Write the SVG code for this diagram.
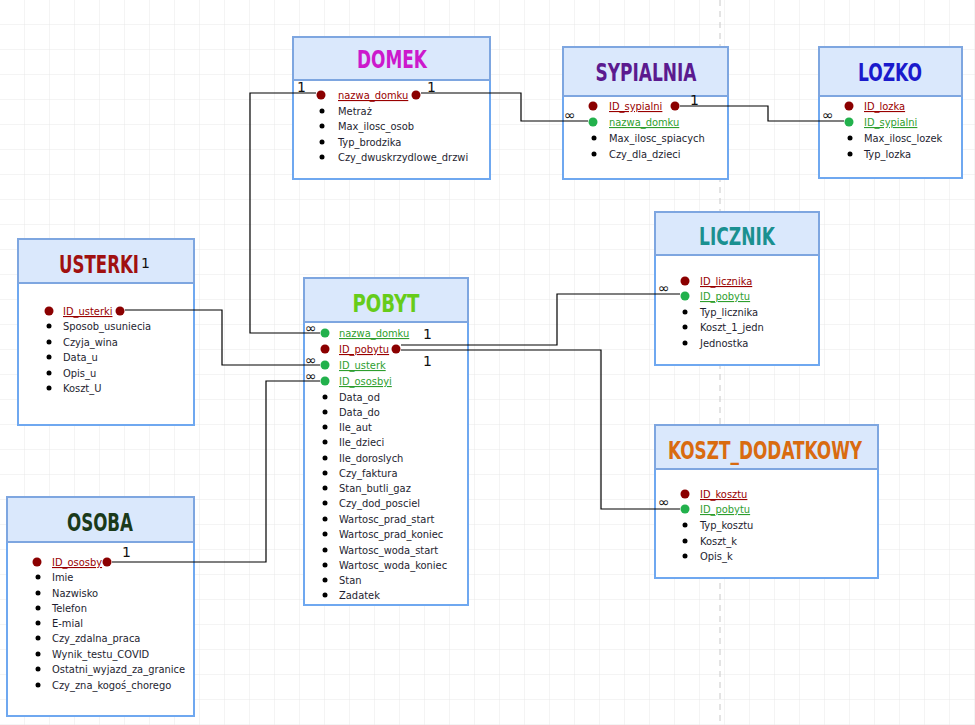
<svg xmlns="http://www.w3.org/2000/svg" width="975" height="725" viewBox="0 0 975 725">
<defs>
<pattern id="g" width="25" height="25" patternUnits="userSpaceOnUse"><path d="M25 0V25M0 25H25" fill="none" stroke="#e8e8e8" stroke-width="1"/></pattern>
<style>
.h{fill:#dae8fc;stroke:#7ea6e0;stroke-width:2}
.b{fill:#fff;stroke:#6fa8f0;stroke-width:2}
.t{font-family:"DejaVu Sans Condensed","DejaVu Sans",sans-serif;font-weight:bold;font-size:25px;text-anchor:middle}
.r{font-family:"DejaVu Sans Condensed","DejaVu Sans",sans-serif;font-size:11px;fill:#1e1e30}
.pk{fill:#990000;text-decoration:underline}
.fk{fill:#2e9e2e;text-decoration:underline}
.d{fill:#000}
.dr{fill:#8b0000}
.dg{fill:#22b14c}
.c{fill:none;stroke:#000;stroke-width:1.2}
.l{font-family:"DejaVu Sans",sans-serif;font-size:14px;fill:#111}
</style>
</defs>
<rect width="975" height="725" fill="#fff"/>
<rect width="975" height="725" fill="url(#g)"/>
<line x1="720" y1="0" x2="720" y2="725" stroke="#c8c8c8" stroke-dasharray="6,5"/>

<g id="DOMEK">
<rect class="b" x="293" y="80" width="197" height="99"/><rect class="h" x="293" y="37" width="197" height="43"/>
<text class="t" x="392" y="68" fill="#cc19cc" textLength="70" lengthAdjust="spacingAndGlyphs">DOMEK</text>
<circle class="dr" cx="321" cy="95" r="4.5"/><text class="r pk" x="338" y="99">nazwa_domku</text><circle class="dr" cx="416" cy="95" r="4.5"/>
<circle class="d" cx="322" cy="111" r="2.5"/><text class="r" x="338" y="115">Metraż</text>
<circle class="d" cx="322" cy="126" r="2.5"/><text class="r" x="338" y="130">Max_ilosc_osob</text>
<circle class="d" cx="322" cy="142" r="2.5"/><text class="r" x="338" y="146">Typ_brodzika</text>
<circle class="d" cx="322" cy="157" r="2.5"/><text class="r" x="338" y="161">Czy_dwuskrzydlowe_drzwi</text>
</g>

<g id="SYPIALNIA">
<rect class="b" x="563" y="96" width="165" height="83"/><rect class="h" x="563" y="47" width="165" height="49"/>
<text class="t" x="646" y="81" fill="#5b1a8f" textLength="101" lengthAdjust="spacingAndGlyphs">SYPIALNIA</text>
<circle class="dr" cx="593" cy="106" r="4.5"/><text class="r pk" x="609" y="110">ID_sypialni</text><circle class="dr" cx="675" cy="106" r="4.5"/>
<circle class="dg" cx="593" cy="122" r="4.5"/><text class="r fk" x="609" y="126">nazwa_domku</text>
<circle class="d" cx="594" cy="138" r="2.5"/><text class="r" x="609" y="142">Max_ilosc_spiacych</text>
<circle class="d" cx="594" cy="154" r="2.5"/><text class="r" x="609" y="158">Czy_dla_dzieci</text>
</g>

<g id="LOZKO">
<rect class="b" x="819" y="96" width="143" height="82"/><rect class="h" x="819" y="47" width="143" height="49"/>
<text class="t" x="890" y="81" fill="#1a1acc" textLength="64" lengthAdjust="spacingAndGlyphs">LOZKO</text>
<circle class="dr" cx="849" cy="106" r="4.5"/><text class="r pk" x="864" y="110">ID_lozka</text>
<circle class="dg" cx="849" cy="122" r="4.5"/><text class="r fk" x="864" y="126">ID_sypialni</text>
<circle class="d" cx="850" cy="138" r="2.5"/><text class="r" x="864" y="142">Max_ilosc_lozek</text>
<circle class="d" cx="850" cy="154" r="2.5"/><text class="r" x="864" y="158">Typ_lozka</text>
</g>

<g id="USTERKI">
<rect class="b" x="18" y="283" width="176" height="142"/><rect class="h" x="18" y="239" width="176" height="44"/>
<text class="t" x="99" y="273" fill="#a01010" textLength="80" lengthAdjust="spacingAndGlyphs">USTERKI</text>
<circle class="dr" cx="49" cy="311" r="4.5"/><text class="r pk" x="63" y="315">ID_usterki</text><circle class="dr" cx="120" cy="311" r="4.5"/>
<circle class="d" cx="49" cy="326" r="2.5"/><text class="r" x="63" y="330">Sposob_usuniecia</text>
<circle class="d" cx="49" cy="342" r="2.5"/><text class="r" x="63" y="346">Czyja_wina</text>
<circle class="d" cx="49" cy="357" r="2.5"/><text class="r" x="63" y="361">Data_u</text>
<circle class="d" cx="49" cy="373" r="2.5"/><text class="r" x="63" y="377">Opis_u</text>
<circle class="d" cx="49" cy="388" r="2.5"/><text class="r" x="63" y="392">Koszt_U</text>
</g>

<g id="POBYT">
<rect class="b" x="304" y="322" width="164" height="283"/><rect class="h" x="304" y="278" width="164" height="44"/>
<text class="t" x="386" y="312" fill="#66cc1a" textLength="67" lengthAdjust="spacingAndGlyphs">POBYT</text>
<circle class="dg" cx="325" cy="333" r="4.5"/><text class="r fk" x="339" y="337">nazwa_domku</text>
<circle class="dr" cx="325" cy="349" r="4.5"/><text class="r pk" x="339" y="353">ID_pobytu</text><circle class="dr" cx="396" cy="349" r="4.5"/>
<circle class="dg" cx="325" cy="365" r="4.5"/><text class="r fk" x="339" y="369">ID_usterk</text>
<circle class="dg" cx="325" cy="381" r="4.5"/><text class="r fk" x="339" y="385">ID_ososbyi</text>
<g>
<circle class="d" cx="325" cy="397" r="2.5"/><text class="r" x="339" y="401">Data_od</text>
<circle class="d" cx="325" cy="412" r="2.5"/><text class="r" x="339" y="416">Data_do</text>
<circle class="d" cx="325" cy="427" r="2.5"/><text class="r" x="339" y="431">Ile_aut</text>
<circle class="d" cx="325" cy="442" r="2.5"/><text class="r" x="339" y="446">Ile_dzieci</text>
<circle class="d" cx="325" cy="458" r="2.5"/><text class="r" x="339" y="462">Ile_doroslych</text>
<circle class="d" cx="325" cy="473" r="2.5"/><text class="r" x="339" y="477">Czy_faktura</text>
<circle class="d" cx="325" cy="488" r="2.5"/><text class="r" x="339" y="492">Stan_butli_gaz</text>
<circle class="d" cx="325" cy="503" r="2.5"/><text class="r" x="339" y="507">Czy_dod_posciel</text>
<circle class="d" cx="325" cy="519" r="2.5"/><text class="r" x="339" y="523">Wartosc_prad_start</text>
<circle class="d" cx="325" cy="534" r="2.5"/><text class="r" x="339" y="538">Wartosc_prad_koniec</text>
<circle class="d" cx="325" cy="550" r="2.5"/><text class="r" x="339" y="554">Wartosc_woda_start</text>
<circle class="d" cx="325" cy="565" r="2.5"/><text class="r" x="339" y="569">Wartosc_woda_koniec</text>
<circle class="d" cx="325" cy="580" r="2.5"/><text class="r" x="339" y="584">Stan</text>
<circle class="d" cx="325" cy="595" r="2.5"/><text class="r" x="339" y="599">Zadatek</text>
</g>
</g>

<g id="LICZNIK">
<rect class="b" x="655" y="255" width="164" height="110"/><rect class="h" x="655" y="212" width="164" height="43"/>
<text class="t" x="737" y="245" fill="#1a9090" textLength="76" lengthAdjust="spacingAndGlyphs">LICZNIK</text>
<circle class="dr" cx="685" cy="281" r="4.5"/><text class="r pk" x="700" y="285">ID_licznika</text>
<circle class="dg" cx="685" cy="296" r="4.5"/><text class="r fk" x="700" y="300">ID_pobytu</text>
<circle class="d" cx="685" cy="312" r="2.5"/><text class="r" x="700" y="316">Typ_licznika</text>
<circle class="d" cx="685" cy="327" r="2.5"/><text class="r" x="700" y="331">Koszt_1_jedn</text>
<circle class="d" cx="685" cy="343" r="2.5"/><text class="r" x="700" y="347">Jednostka</text>
</g>

<g id="KOSZT_DODATKOWY">
<rect class="b" x="655" y="469" width="223" height="109"/><rect class="h" x="655" y="425" width="223" height="44"/>
<text class="t" x="765" y="459" fill="#d96b10" textLength="194" lengthAdjust="spacingAndGlyphs">KOSZT_DODATKOWY</text>
<circle class="dr" cx="685" cy="494" r="4.5"/><text class="r pk" x="700" y="498">ID_kosztu</text>
<circle class="dg" cx="685" cy="509" r="4.5"/><text class="r fk" x="700" y="513">ID_pobytu</text>
<circle class="d" cx="685" cy="525" r="2.5"/><text class="r" x="700" y="529">Typ_kosztu</text>
<circle class="d" cx="685" cy="541" r="2.5"/><text class="r" x="700" y="545">Koszt_k</text>
<circle class="d" cx="685" cy="556" r="2.5"/><text class="r" x="700" y="560">Opis_k</text>
</g>

<g id="OSOBA">
<rect class="b" x="7" y="542" width="187" height="174"/><rect class="h" x="7" y="497" width="187" height="45"/>
<text class="t" x="100" y="531" fill="#1a3a1a" textLength="66" lengthAdjust="spacingAndGlyphs">OSOBA</text>
<circle class="dr" cx="37" cy="562" r="4.5"/><text class="r pk" x="52" y="566">ID_ososby</text><circle class="dr" cx="107" cy="562" r="4.5"/>
<circle class="d" cx="38" cy="577" r="2.5"/><text class="r" x="52" y="581">Imie</text>
<circle class="d" cx="38" cy="593" r="2.5"/><text class="r" x="52" y="597">Nazwisko</text>
<circle class="d" cx="38" cy="608" r="2.5"/><text class="r" x="52" y="612">Telefon</text>
<circle class="d" cx="38" cy="623" r="2.5"/><text class="r" x="52" y="627">E-mial</text>
<circle class="d" cx="38" cy="638" r="2.5"/><text class="r" x="52" y="642">Czy_zdalna_praca</text>
<circle class="d" cx="38" cy="654" r="2.5"/><text class="r" x="52" y="658">Wynik_testu_COVID</text>
<circle class="d" cx="38" cy="669" r="2.5"/><text class="r" x="52" y="673">Ostatni_wyjazd_za_granice</text>
<circle class="d" cx="38" cy="685" r="2.5"/><text class="r" x="52" y="689">Czy_zna_kogoś_chorego</text>
</g>

<g id="connectors">
<polyline class="c" points="316,93 250,93 250,333 320,333"/>
<polyline class="c" points="421,93 521,93 521,121 588,121"/>
<polyline class="c" points="680,106 768,106 768,121 844,121"/>
<polyline class="c" points="125,310 222,310 222,365 320,365"/>
<polyline class="c" points="112,562 266,562 266,381 320,381"/>
<polyline class="c" points="401,345 557,345 557,294 680,294"/>
<polyline class="c" points="401,350 601,350 601,509 680,509"/>
<text class="l" x="297" y="92">1</text><text class="l" x="427" y="92">1</text>
<text class="l" x="564" y="120">∞</text><text class="l" x="690" y="105">1</text><text class="l" x="822" y="120">∞</text>
<text class="l" x="141" y="268">1</text><text class="l" x="122" y="557">1</text>
<text class="l" x="305" y="333">∞</text><text class="l" x="305" y="365">∞</text><text class="l" x="305" y="381">∞</text>
<text class="l" x="423" y="339">1</text><text class="l" x="423" y="366">1</text>
<text class="l" x="658" y="293">∞</text><text class="l" x="658" y="507">∞</text>
</g>
</svg>
